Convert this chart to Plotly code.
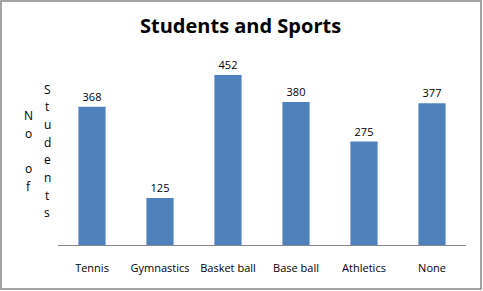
import plotly.graph_objects as go

categories = ["Tennis", "Gymnastics", "Basket ball", "Base ball", "Athletics", "None"]
students = [368, 125, 452, 380, 275, 377]
title_text = "Students and Sports"
ylabel_col1 = "No of"
ylabel_col2 = "Students"

W, H = 483, 291
ML, MR, MT, MB = 58, 17, 57, 46
PW, PH = W - ML - MR, H - MT - MB

def px_x(x):
    return (x - ML) / PW

def px_y(y):
    return (H - MB - y) / PH

fig = go.Figure()
fig.add_trace(go.Bar(
    x=categories, y=students,
    marker=dict(color="#4F81BD", line=dict(width=0)),
    text=[str(v) for v in students], textposition="outside",
    textfont=dict(family="Open Sans", size=11, color="#000000"),
    cliponaxis=False,
))

annotations = []
spacing = 17.7
center_y = 151
for col_text, xpos in ((ylabel_col1, 28), (ylabel_col2, 47)):
    n = len(col_text)
    for i, ch in enumerate(col_text):
        if ch == " ":
            continue
        ypix = center_y + (i - (n - 1) / 2) * spacing
        annotations.append(dict(
            text=ch, x=px_x(xpos), y=px_y(ypix), xref="paper", yref="paper",
            showarrow=False, xanchor="center", yanchor="middle",
            font=dict(family="Open Sans", size=12, color="#000000"),
        ))
annotations.append(dict(
    text="<b>" + title_text + "</b>", x=px_x(240.5), y=px_y(26), xref="paper", yref="paper",
    showarrow=False, xanchor="center", yanchor="middle",
    font=dict(family="Open Sans", size=20, color="#000000"),
))

fig.update_layout(
    width=W, height=H, margin=dict(l=ML, r=MR, t=MT, b=MB),
    paper_bgcolor="white", plot_bgcolor="white",
    bargap=0.6, showlegend=False,
    annotations=annotations,
    shapes=[dict(type="rect", xref="paper", yref="paper",
                 x0=px_x(1), x1=px_x(481), y0=px_y(289), y1=px_y(1),
                 line=dict(color="#868686", width=1.5), layer="above")],
    xaxis=dict(showline=True, linecolor="#868686", linewidth=1, ticks="",
               showgrid=False, ticklabelstandoff=13,
               tickfont=dict(family="Open Sans", size=11, color="#000000")),
    yaxis=dict(range=[0, 500], visible=False, showgrid=False, zeroline=False),
)

fig.write_html("out.html")
